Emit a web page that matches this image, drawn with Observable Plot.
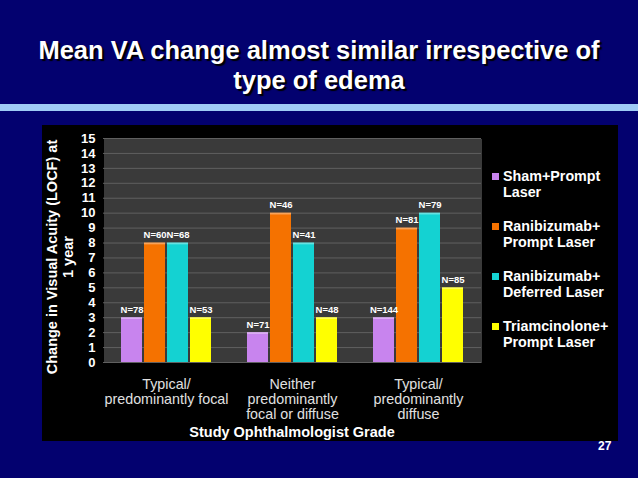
<!DOCTYPE html>
<html>
<head>
<meta charset="utf-8">
<script src="https://cdn.jsdelivr.net/npm/d3@7"></script>
<script src="https://cdn.jsdelivr.net/npm/@observablehq/plot@0.6"></script>
<style>
  html, body { margin: 0; padding: 0; }
  body { width: 638px; height: 478px; background: #03016f; position: relative; overflow: hidden;
         font-family: "Liberation Sans", Arial, sans-serif; }
  #title { position: absolute; left: 0; top: 35px; width: 638px; text-align: center; color: #fff;
           font-weight: bold; font-size: 25.5px; line-height: 30px; text-shadow: 2px 2px 1px #000; }
  #stripe { position: absolute; left: 0; top: 104px; width: 638px; height: 7px; background: #9fcbf5; }
  #panel { position: absolute; left: 42px; top: 125px; width: 576px; height: 316px; background: #000; }
  #chart { position: absolute; left: 0; top: 0; }
  #ylab { position: absolute; left: 60px; top: 257px; width: 280px; transform: translate(-50%, -50%) rotate(-90deg);
          text-align: center; color: #fff; font-weight: bold; font-size: 14.5px; line-height: 16px; }
  #xlab { position: absolute; left: 292px; top: 424px; transform: translateX(-50%); white-space: nowrap;
          color: #fff; font-weight: bold; font-size: 14.5px; }
  #legend { position: absolute; left: 492px; top: 168px; color: #fff; font-weight: bold; font-size: 14.3px; line-height: 16px; }
  .item { position: relative; padding-left: 11px; margin-bottom: 18px; white-space: nowrap; }
  .sw { position: absolute; left: 0; top: 5px; width: 7px; height: 7px; }
  #page { position: absolute; left: 598px; top: 439px; color: #fff; font-weight: bold; font-size: 12px; }
</style>
</head>
<body>
<div id="title">Mean VA change almost similar irrespective of<br>type of edema</div>
<div id="stripe"></div>
<div id="panel"><div id="chart"></div></div>
<div id="ylab">Change in Visual Acuity (LOCF) at<br>1 year</div>
<div id="xlab">Study Ophthalmologist Grade</div>
<div id="legend"></div>
<div id="page">27</div>
<script>
const categories = ["Typical/\npredominantly focal", "Neither\npredominantly\nfocal or diffuse", "Typical/\npredominantly\ndiffuse"];
const series = ["Sham+Prompt Laser", "Ranibizumab+ Prompt Laser", "Ranibizumab+ Deferred Laser", "Triamcinolone+ Prompt Laser"];
const legendLines = [["Sham+Prompt", "Laser"], ["Ranibizumab+", "Prompt Laser"], ["Ranibizumab+", "Deferred Laser"], ["Triamcinolone+", "Prompt Laser"]];
const colors = ["#c884ee", "#f57200", "#14d2d2", "#ffff00"];
const sham = [3, 2, 3];
const ranibPrompt = [8, 10, 9];
const ranibDeferred = [8, 8, 10];
const triam = [3, 3, 5];
const nSham = [78, 71, 144];
const nRanibPrompt = [60, 46, 81];
const nRanibDeferred = [68, 41, 79];
const nTriam = [53, 48, 85];
const yTicks = d3.range(0, 16);

const valueSets = [sham, ranibPrompt, ranibDeferred, triam];
const nSets = [nSham, nRanibPrompt, nRanibDeferred, nTriam];
const data = [];
categories.forEach((c, i) => series.forEach((s, j) => data.push({cat: c, series: s, value: valueSets[j][i], n: nSets[j][i]})));

const chart = Plot.plot({
  width: 576, height: 316,
  marginLeft: 61, marginRight: 137, marginTop: 13, marginBottom: 79,
  style: {background: "transparent", fontFamily: "Liberation Sans, Arial, sans-serif"},
  fx: {domain: categories, padding: 0, label: null},
  x: {domain: series, paddingInner: 0.08, paddingOuter: 0.755, axis: null},
  y: {domain: [0, 15], ticks: yTicks, label: null},
  color: {domain: series, range: colors},
  marks: [
    Plot.frame({fill: "#3a3a3a", stroke: null, shapeRendering: "crispEdges"}),
    Plot.gridY(yTicks, {stroke: "#606060", strokeOpacity: 1, strokeWidth: 1}),
    Plot.barY(data, {fx: "cat", x: "series", y: "value", fill: "series"}),
    Plot.barY(data, {fx: "cat", x: "series", y1: "value", y2: d => d.value - 0.12, fill: "#ffffff", fillOpacity: 0.35}),
    Plot.text(data, {fx: "cat", x: "series", y: "value", text: d => "N=" + d.n, dy: -8, fill: "#fff", fontSize: 9.5, fontWeight: "bold"}),
    Plot.axisY({ticks: yTicks, tickSize: 0, tickPadding: 8, fill: "#fff", fontSize: 13, fontWeight: "bold", label: null}),
    Plot.axisFx({anchor: "bottom", tickSize: 0, tickPadding: 16, fill: "#e0e0e0", fontSize: 14.3, lineHeight: 1.05, label: null})
  ]
});
document.getElementById("chart").appendChild(chart);

const legend = document.getElementById("legend");
legendLines.forEach((lines, j) => {
  const it = document.createElement("div");
  it.className = "item";
  it.innerHTML = `<span class="sw" style="background:${colors[j]}"></span>${lines[0]}<br>${lines[1]}`;
  legend.appendChild(it);
});
</script>
</body>
</html>
